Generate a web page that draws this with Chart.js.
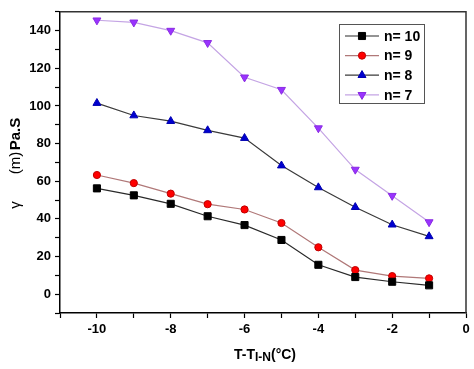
<!DOCTYPE html>
<html>
<head>
<meta charset="utf-8">
<script src="https://cdn.jsdelivr.net/npm/chart.js@4"></script>
<style>
html,body{margin:0;padding:0;background:#fff;}
#wrap{width:474px;height:369px;position:relative;}
</style>
</head>
<body>
<div id="wrap"><canvas id="c" width="474" height="369"></canvas></div>
<script>
const temps = [-10, -9, -8, -7, -6, -5, -4, -3, -2, -1];
const n10 = [56.2, 52.5, 48, 41.4, 36.7, 28.8, 15.6, 9.1, 6.6, 4.7];
const n9 = [63.3, 59, 53.4, 47.8, 45, 37.8, 24.9, 12.8, 9.6, 8.4];
const n8 = [101.5, 94.9, 91.9, 87, 82.9, 68.3, 56.7, 46.2, 36.9, 30.7];
const n7 = [145.5, 144.4, 140, 133.5, 115.2, 108.6, 88.2, 66.2, 52.3, 38.3];
const seriesLabels = ['n= 10', 'n= 9', 'n= 8', 'n= 7'];
const xTickLabels = ['-10', '-8', '-6', '-4', '-2', '0'];
const yTickLabels = ['0', '20', '40', '60', '80', '100', '120', '140'];

const FONT = '"Liberation Sans", Arial, sans-serif';

function pts(arr) { return temps.map((t, i) => ({x: t, y: arr[i]})); }

const styles = [
  {line: '#2a2a2a', fill: '#000000', border: '#000000', style: 'rect', r: 5, rot: 0},
  {line: '#b07878', fill: '#ff0000', border: '#c00000', style: 'circle', r: 3.6, rot: 0},
  {line: '#3a3a3a', fill: '#0000d0', border: '#0000b0', style: 'triangle', r: 4.6, rot: 0},
  {line: '#c4a4e4', fill: '#9933ff', border: '#8a2be2', style: 'triangle', r: 4.6, rot: 180}
];
const dataArrays = [n10, n9, n8, n7];

const datasets = dataArrays.map((d, i) => ({
  label: seriesLabels[i],
  data: pts(d),
  borderColor: styles[i].line,
  borderWidth: 1.2,
  pointStyle: styles[i].style,
  pointRadius: styles[i].r,
  pointRotation: styles[i].rot,
  pointBackgroundColor: styles[i].fill,
  pointBorderColor: styles[i].border,
  pointBorderWidth: 1,
  tension: 0
}));

const framePlugin = {
  id: 'frame',
  afterDraw(chart) {
    const {ctx, chartArea: a} = chart;
    ctx.save();
    ctx.strokeStyle = '#333';
    ctx.lineWidth = 1.5;
    ctx.beginPath();
    ctx.moveTo(a.left, a.top); ctx.lineTo(a.right, a.top); ctx.lineTo(a.right, a.bottom);
    ctx.stroke();
    // x axis title with subscript
    const cx = (a.left + a.right) / 2;
    const y = 355;
    ctx.fillStyle = '#000';
    ctx.textBaseline = 'middle';
    const p1 = 'T-T', sub = 'I-N', p2 = '(°C)';
    ctx.font = 'bold 14px ' + FONT;
    const w1 = ctx.measureText(p1).width, w3 = ctx.measureText(p2).width;
    ctx.font = 'bold 12px ' + FONT;
    const w2 = ctx.measureText(sub).width;
    let x = cx + 2 - (w1 + w2 + w3) / 2;
    ctx.textAlign = 'left';
    ctx.font = 'bold 14px ' + FONT;
    ctx.fillText(p1, x, y); x += w1;
    ctx.font = 'bold 12px ' + FONT;
    ctx.fillText(sub, x, y + 3); x += w2;
    ctx.font = 'bold 14px ' + FONT;
    ctx.fillText(p2, x, y);
    // y axis title (rotated): γ  (m)Pa.S
    ctx.save();
    ctx.translate(16, 0);
    ctx.rotate(-Math.PI / 2);
    ctx.textAlign = 'center';
    ctx.textBaseline = 'middle';
    ctx.font = '15px ' + FONT;
    ctx.fillText('γ', -205, 0);
    ctx.font = '15px ' + FONT;
    ctx.fillText('(m)', -163, 0);
    ctx.font = 'bold 15px ' + FONT;
    ctx.fillText('Pa.S', -134, 0);
    ctx.restore();
    // legend
    const bx = 339, by = 24, bw = 85, bh = 79;
    ctx.strokeStyle = '#555';
    ctx.lineWidth = 1;
    ctx.fillStyle = '#fff';
    ctx.fillRect(bx, by, bw, bh);
    ctx.strokeRect(bx + 0.5, by + 0.5, bw, bh);
    chart.data.datasets.forEach((ds, i) => {
      const ry = 36 + i * 19.6;
      ctx.strokeStyle = ds.borderColor;
      ctx.lineWidth = 1.2;
      ctx.beginPath(); ctx.moveTo(345, ry); ctx.lineTo(379, ry); ctx.stroke();
      ctx.fillStyle = ds.pointBackgroundColor;
      ctx.strokeStyle = ds.pointBorderColor;
      ctx.lineWidth = 1;
      Chart.helpers.drawPoint(ctx, {pointStyle: ds.pointStyle, radius: ds.pointRadius, rotation: ds.pointRotation, borderWidth: 1}, 362, ry);
      ctx.fillStyle = '#000';
      ctx.font = 'bold 14px ' + FONT;
      ctx.textAlign = 'left';
      ctx.textBaseline = 'middle';
      ctx.fillText(ds.label, 384, ry + 1);
    });
    ctx.restore();
  }
};

new Chart(document.getElementById('c'), {
  type: 'line',
  data: {datasets},
  options: {
    responsive: false,
    animation: false,
    layout: {padding: {top: 9, right: 8, left: 0, bottom: 0}},
    plugins: {legend: {display: false}, tooltip: {enabled: false}},
    scales: {
      x: {
        type: 'linear',
        min: -11, max: 0,
        afterFit(s) { s.height = 56; },
        grid: {drawOnChartArea: false, drawTicks: true, tickLength: 5, color: '#000', tickWidth: 1.2},
        border: {display: true, color: '#000', width: 1.5},
        ticks: {
          stepSize: 1, autoSkip: false, maxRotation: 0, padding: 4,
          color: '#000', font: {family: FONT, size: 13, weight: 'bold'},
          callback: (v) => xTickLabels.includes(String(v)) ? String(v) : ''
        }
      },
      y: {
        min: -10, max: 150,
        afterFit(s) { s.width = 60; },
        grid: {drawOnChartArea: false, drawTicks: true, tickLength: 5, color: '#000', tickWidth: 1.2},
        border: {display: true, color: '#000', width: 1.5},
        ticks: {
          stepSize: 10, autoSkip: false, padding: 4,
          color: '#000', font: {family: FONT, size: 13, weight: 'bold'},
          callback: (v) => yTickLabels.includes(String(v)) ? String(v) : ''
        }
      }
    }
  },
  plugins: [framePlugin]
});
</script>
</body>
</html>
